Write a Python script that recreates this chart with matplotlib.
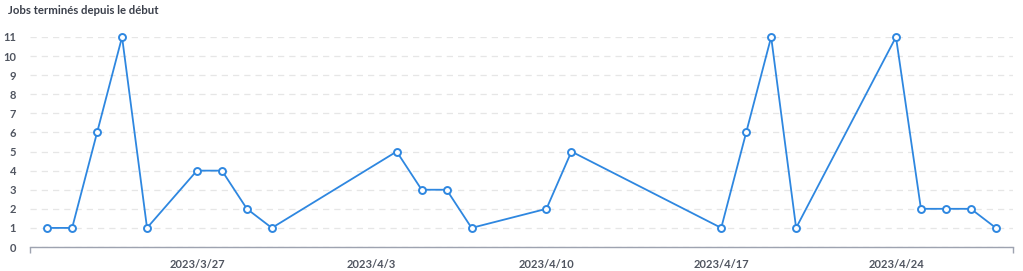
import matplotlib.pyplot as plt
import matplotlib.dates as mdates
import numpy as np
import datetime as dt

plt.rcParams['font.family'] = ['Lato', 'DejaVu Sans']

dates = ['2023-03-21', '2023-03-22', '2023-03-23', '2023-03-24', '2023-03-25',
         '2023-03-27', '2023-03-28', '2023-03-29', '2023-03-30',
         '2023-04-04', '2023-04-05', '2023-04-06', '2023-04-07',
         '2023-04-10', '2023-04-11',
         '2023-04-17', '2023-04-18', '2023-04-19', '2023-04-20',
         '2023-04-24', '2023-04-25', '2023-04-26', '2023-04-27', '2023-04-28']
jobs = [1, 1, 6, 11, 1,
        4, 4, 2, 1,
        5, 3, 3, 1,
        2, 5,
        1, 6, 11, 1,
        11, 2, 2, 2, 1]
tick_dates = ['2023-03-27', '2023-04-03', '2023-04-10', '2023-04-17', '2023-04-24']
tick_labels = ['2023/3/27', '2023/4/3', '2023/4/10', '2023/4/17', '2023/4/24']
yticks = list(range(0, 12))

x = [dt.datetime.strptime(d, '%Y-%m-%d') for d in dates]
xt = [dt.datetime.strptime(d, '%Y-%m-%d') for d in tick_dates]

fig = plt.figure(figsize=(10.23, 2.71), dpi=100)
ax = fig.add_axes([30 / 1023, 24 / 271, 983 / 1023, 210 / 271])

blue = '#2e87e0'
ax.plot(x, jobs, color=blue, lw=1.3, marker='o', ms=5.0, mfc='white',
        mec=blue, mew=1.4, clip_on=False, zorder=3)

pad = dt.timedelta(hours=16.5)
ax.set_xlim(x[0] - pad, x[-1] + pad)
ax.set_ylim(0, 11)

ax.set_xticks(xt)
ax.set_xticklabels(tick_labels)
ax.set_xticks([ax.get_xlim()[0], ax.get_xlim()[1]], minor=True)
ax.tick_params(axis='x', which='major', length=0, pad=9, labelsize=8,
               labelcolor='#505560')
ax.tick_params(axis='x', which='minor', length=4, color='#9ea3b0', width=1)
for lab in ax.get_xticklabels():
    lab.set_fontweight('bold')

ax.set_yticks(yticks)
ax.tick_params(axis='y', length=0, pad=10, labelsize=8, labelcolor='#505560')
for lab in ax.get_yticklabels():
    lab.set_fontweight('bold')

ax.grid(axis='y', color='#e6e6e6', ls=(0, (5, 4)), lw=0.9)
ax.set_axisbelow(True)
for s in ['top', 'right', 'left']:
    ax.spines[s].set_visible(False)
ax.spines['bottom'].set_color('#9ea3b0')
ax.spines['bottom'].set_linewidth(1)

fig.text(8 / 1023, 1 - 10 / 271, 'Jobs terminés depuis le début', fontsize=8.2,
         fontweight='bold', color='#3a3f4a', va='center', ha='left')

fig.savefig('out.png', dpi=100)
